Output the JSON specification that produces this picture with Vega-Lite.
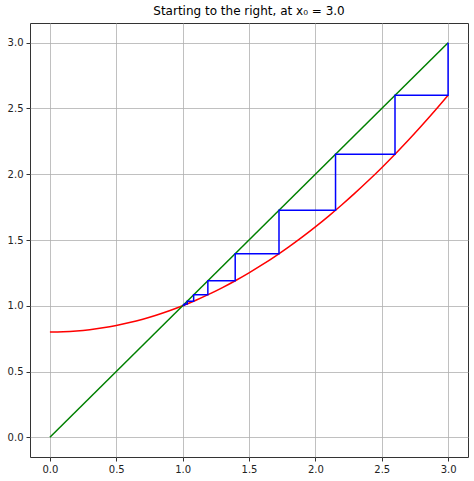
{
  "$schema": "https://vega.github.io/schema/vega-lite/v6.json",
  "width": 438,
  "height": 434,
  "autosize": {"type": "none"},
  "padding": {"left": 30, "top": 23, "right": 6, "bottom": 24},
  "background": "white",
  "title": {"text": "Starting to the right, at x₀ = 3.0", "font": "DejaVu Sans", "fontSize": 12, "fontWeight": "normal", "color": "black", "anchor": "middle", "offset": 5},
  "config": {
    "view": {"stroke": "#333333", "strokeWidth": 1},
    "axis": {
      "labelFont": "DejaVu Sans", "labelFontSize": 10, "labelColor": "#222222",
      "gridColor": "#b0b0b0", "gridWidth": 0.8, "gridOpacity": 1,
      "tickColor": "#333333", "tickSize": 4, "domain": false, "title": null, "labelPadding": 3
    }
  },
  "datasets": {
    "curve": [
      {"x": 0.0, "y": 0.8}, {"x": 0.1, "y": 0.802}, {"x": 0.2, "y": 0.808}, {"x": 0.3, "y": 0.818},
      {"x": 0.4, "y": 0.832}, {"x": 0.5, "y": 0.85}, {"x": 0.6, "y": 0.872}, {"x": 0.7, "y": 0.898},
      {"x": 0.8, "y": 0.928}, {"x": 0.9, "y": 0.962}, {"x": 1.0, "y": 1.0}, {"x": 1.1, "y": 1.042},
      {"x": 1.2, "y": 1.088}, {"x": 1.3, "y": 1.138}, {"x": 1.4, "y": 1.192}, {"x": 1.5, "y": 1.25},
      {"x": 1.6, "y": 1.312}, {"x": 1.7, "y": 1.378}, {"x": 1.8, "y": 1.448}, {"x": 1.9, "y": 1.522},
      {"x": 2.0, "y": 1.6}, {"x": 2.1, "y": 1.682}, {"x": 2.2, "y": 1.768}, {"x": 2.3, "y": 1.858},
      {"x": 2.4, "y": 1.952}, {"x": 2.5, "y": 2.05}, {"x": 2.6, "y": 2.152}, {"x": 2.7, "y": 2.258},
      {"x": 2.8, "y": 2.368}, {"x": 2.9, "y": 2.482}, {"x": 3.0, "y": 2.6}
    ],
    "diag": [{"x": 0, "y": 0}, {"x": 3, "y": 3}],
    "cobweb": [
      {"i": 0, "x": 3.0, "y": 3.0}, {"i": 1, "x": 3.0, "y": 2.6},
      {"i": 2, "x": 2.6, "y": 2.6}, {"i": 3, "x": 2.6, "y": 2.152},
      {"i": 4, "x": 2.152, "y": 2.152}, {"i": 5, "x": 2.152, "y": 1.726},
      {"i": 6, "x": 1.726, "y": 1.726}, {"i": 7, "x": 1.726, "y": 1.396},
      {"i": 8, "x": 1.396, "y": 1.396}, {"i": 9, "x": 1.396, "y": 1.19},
      {"i": 10, "x": 1.19, "y": 1.19}, {"i": 11, "x": 1.19, "y": 1.083},
      {"i": 12, "x": 1.083, "y": 1.083}, {"i": 13, "x": 1.083, "y": 1.035},
      {"i": 14, "x": 1.035, "y": 1.035}, {"i": 15, "x": 1.035, "y": 1.014},
      {"i": 16, "x": 1.014, "y": 1.014}, {"i": 17, "x": 1.014, "y": 1.006},
      {"i": 18, "x": 1.006, "y": 1.006}, {"i": 19, "x": 1.006, "y": 1.002},
      {"i": 20, "x": 1.002, "y": 1.002}
    ]
  },
  "encoding": {
    "x": {"field": "x", "type": "quantitative",
      "scale": {"domain": [-0.15, 3.15], "nice": false, "zero": false},
      "axis": {"values": [0, 0.5, 1, 1.5, 2, 2.5, 3], "format": ".1f"}},
    "y": {"field": "y", "type": "quantitative",
      "scale": {"domain": [-0.15, 3.15], "nice": false, "zero": false},
      "axis": {"values": [0, 0.5, 1, 1.5, 2, 2.5, 3], "format": ".1f"}}
  },
  "layer": [
    {"data": {"name": "curve"}, "mark": {"type": "line", "color": "#ff0000", "strokeWidth": 1.5, "interpolate": "monotone", "clip": true}},
    {"data": {"name": "diag"}, "mark": {"type": "line", "color": "#008000", "strokeWidth": 1.5, "clip": true}},
    {"data": {"name": "cobweb"}, "mark": {"type": "line", "color": "#0000ff", "strokeWidth": 1.5, "clip": true},
      "encoding": {"order": {"field": "i", "type": "quantitative"}}}
  ]
}
